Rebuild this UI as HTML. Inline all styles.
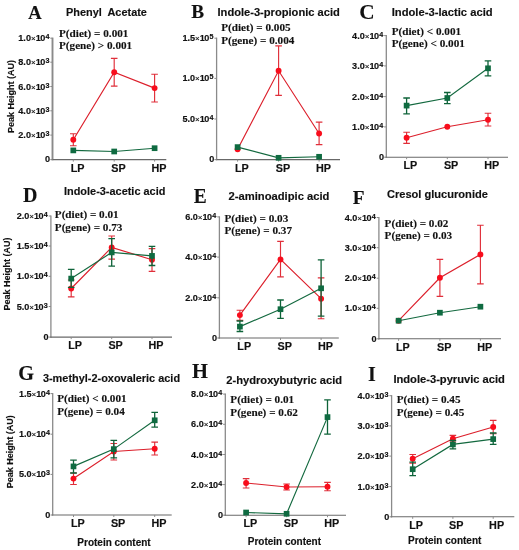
<!DOCTYPE html>
<html><head><meta charset="utf-8"><title>Figure</title>
<style>
html,body{margin:0;padding:0;background:#fff}
svg{display:block}
.s{font-family:"Liberation Sans",sans-serif;font-weight:bold;fill:#111;stroke:#111;stroke-width:0.15px}
.r{font-family:"Liberation Serif",serif;font-weight:bold;fill:#111;stroke:#111;stroke-width:0.12px}
.tk{font-size:8.6px}
.mul{font-weight:normal;font-size:7.6px}
.ten{letter-spacing:-0.5px}
.sup{font-size:6.8px}
.xl{font-size:10.8px}
.tt{font-size:10.8px}
.pv{font-size:11.2px}
.lb{font-size:17.5px}
.yl{font-size:9px}
.xt{font-size:10px}
</style></head><body>
<svg width="519" height="550" viewBox="0 0 519 550">
<rect width="519" height="550" fill="#fff"/>
<g id="panel-A">
<path d="M52.5 37.6V160.2" fill="none" stroke="#8a8a8a" stroke-width="1.9"/>
<path d="M51.6 159.6H166.3" fill="none" stroke="#686868" stroke-width="1.05"/>
<path d="M50.3 38.2H52.5M50.3 62.2H52.5M50.3 86.5H52.5M50.3 110.8H52.5M50.3 135.1H52.5M50.3 159.6H52.5M73.3 159.6V161.6M114.2 159.6V161.6M154.6 159.6V161.6" fill="none" stroke="#8a8a8a" stroke-width="1"/>
<text class="s tk" transform="translate(49.4 41.2) scale(1.06 1)" text-anchor="end">1.0<tspan class="mul">×</tspan><tspan class="ten">10</tspan><tspan class="sup" dx="0.6" dy="-2">4</tspan></text>
<text class="s tk" transform="translate(49.4 65.2) scale(1.06 1)" text-anchor="end">8.0<tspan class="mul">×</tspan><tspan class="ten">10</tspan><tspan class="sup" dx="0.6" dy="-2">3</tspan></text>
<text class="s tk" transform="translate(49.4 89.5) scale(1.06 1)" text-anchor="end">6.0<tspan class="mul">×</tspan><tspan class="ten">10</tspan><tspan class="sup" dx="0.6" dy="-2">3</tspan></text>
<text class="s tk" transform="translate(49.4 113.8) scale(1.06 1)" text-anchor="end">4.0<tspan class="mul">×</tspan><tspan class="ten">10</tspan><tspan class="sup" dx="0.6" dy="-2">3</tspan></text>
<text class="s tk" transform="translate(49.4 138.1) scale(1.06 1)" text-anchor="end">2.0<tspan class="mul">×</tspan><tspan class="ten">10</tspan><tspan class="sup" dx="0.6" dy="-2">3</tspan></text>
<text class="s tk" transform="translate(50.2 162.4) scale(1.06 1)" text-anchor="end">0</text>
<text class="s xl" x="77.6" y="171.5" text-anchor="middle">LP</text>
<text class="s xl" x="118.5" y="171.5" text-anchor="middle">SP</text>
<text class="s xl" x="158.9" y="171.5" text-anchor="middle">HP</text>
<text class="s yl" transform="translate(13.5 96.4) rotate(-90)" text-anchor="middle">Peak Height (AU)</text>
<polyline points="73.3,139.7 114.2,72.3 154.6,88.1" fill="none" stroke="#dc1f2b" stroke-width="1.15"/>
<path d="M73.3 133.7V145.7M70 133.7h6.6M70 145.7h6.6M114.2 58.4V86.1M110.9 58.4h6.6M110.9 86.1h6.6M154.6 74.2V102M151.3 74.2h6.6M151.3 102h6.6" fill="none" stroke="#e02f3a" stroke-width="1.15"/>
<circle cx="73.3" cy="139.7" r="2.95" fill="#f80d1c"/>
<circle cx="114.2" cy="72.3" r="2.95" fill="#f80d1c"/>
<circle cx="154.6" cy="88.1" r="2.95" fill="#f80d1c"/>
<polyline points="73.3,150.4 114.2,151.5 154.6,148.2" fill="none" stroke="#13693f" stroke-width="1.15"/>
<rect x="70.45" y="147.55" width="5.7" height="5.7" fill="#0f6b41"/>
<rect x="111.35" y="148.65" width="5.7" height="5.7" fill="#0f6b41"/>
<rect x="151.75" y="145.35" width="5.7" height="5.7" fill="#0f6b41"/>
<text class="r" x="28.2" y="18.6" font-size="18.5px">A</text>
<text class="s tt" transform="translate(66 15.5) scale(1.01124 1)" xml:space="preserve">Phenyl  Acetate</text>
<text class="r pv" x="59" y="36.7">P(diet) = 0.001</text>
<text class="r pv" x="59" y="48.5">P(gene) &gt; 0.001</text>
</g>
<g id="panel-B">
<path d="M216.6 37.6V160.2" fill="none" stroke="#8a8a8a" stroke-width="1.3"/>
<path d="M215.7 159.6H340" fill="none" stroke="#686868" stroke-width="1.05"/>
<path d="M214.4 38.2H216.6M214.4 78.4H216.6M214.4 119H216.6M214.4 159.6H216.6M237.6 159.6V161.6M278.6 159.6V161.6M319.1 159.6V161.6" fill="none" stroke="#8a8a8a" stroke-width="1"/>
<text class="s tk" transform="translate(213.5 41.2) scale(1.06 1)" text-anchor="end">1.5<tspan class="mul">×</tspan><tspan class="ten">10</tspan><tspan class="sup" dx="0.6" dy="-2">5</tspan></text>
<text class="s tk" transform="translate(213.5 81.4) scale(1.06 1)" text-anchor="end">1.0<tspan class="mul">×</tspan><tspan class="ten">10</tspan><tspan class="sup" dx="0.6" dy="-2">5</tspan></text>
<text class="s tk" transform="translate(213.5 122) scale(1.06 1)" text-anchor="end">5.0<tspan class="mul">×</tspan><tspan class="ten">10</tspan><tspan class="sup" dx="0.6" dy="-2">4</tspan></text>
<text class="s tk" transform="translate(214.3 162.4) scale(1.06 1)" text-anchor="end">0</text>
<text class="s xl" x="241.9" y="171.5" text-anchor="middle">LP</text>
<text class="s xl" x="282.9" y="171.5" text-anchor="middle">SP</text>
<text class="s xl" x="323.4" y="171.5" text-anchor="middle">HP</text>
<polyline points="237.6,149.2 278.6,70.8 319.1,133.5" fill="none" stroke="#dc1f2b" stroke-width="1.15"/>
<path d="M278.6 45.8V95.4M275.3 45.8h6.6M275.3 95.4h6.6M319.1 122.1V144.6M315.8 122.1h6.6M315.8 144.6h6.6" fill="none" stroke="#e02f3a" stroke-width="1.15"/>
<circle cx="237.6" cy="149.2" r="2.95" fill="#f80d1c"/>
<circle cx="278.6" cy="70.8" r="2.95" fill="#f80d1c"/>
<circle cx="319.1" cy="133.5" r="2.95" fill="#f80d1c"/>
<polyline points="237.6,147.1 278.6,157.8 319.1,156.8" fill="none" stroke="#13693f" stroke-width="1.15"/>
<rect x="234.75" y="144.25" width="5.7" height="5.7" fill="#0f6b41"/>
<rect x="275.75" y="154.95" width="5.7" height="5.7" fill="#0f6b41"/>
<rect x="316.25" y="153.95" width="5.7" height="5.7" fill="#0f6b41"/>
<text class="r" x="191.2" y="18.3" font-size="19.3px">B</text>
<text class="s tt" transform="translate(217.5 16.3) scale(1.0303200000000001 1)" xml:space="preserve">Indole-3-propionic acid</text>
<text class="r pv" x="221.2" y="31.2">P(diet) = 0.005</text>
<text class="r pv" x="221.2" y="43.7">P(gene) = 0.004</text>
</g>
<g id="panel-C">
<path d="M386.3 35V157.8" fill="none" stroke="#8a8a8a" stroke-width="1.3"/>
<path d="M385.4 157.2H508" fill="none" stroke="#686868" stroke-width="1.05"/>
<path d="M384.1 35.6H386.3M384.1 65.9H386.3M384.1 96.6H386.3M384.1 126.9H386.3M384.1 157.2H386.3M406.6 157.2V159.2M447.3 157.2V159.2M488 157.2V159.2" fill="none" stroke="#8a8a8a" stroke-width="1"/>
<text class="s tk" transform="translate(383.2 38.6) scale(1.06 1)" text-anchor="end">4.0<tspan class="mul">×</tspan><tspan class="ten">10</tspan><tspan class="sup" dx="0.6" dy="-2">4</tspan></text>
<text class="s tk" transform="translate(383.2 68.9) scale(1.06 1)" text-anchor="end">3.0<tspan class="mul">×</tspan><tspan class="ten">10</tspan><tspan class="sup" dx="0.6" dy="-2">4</tspan></text>
<text class="s tk" transform="translate(383.2 99.6) scale(1.06 1)" text-anchor="end">2.0<tspan class="mul">×</tspan><tspan class="ten">10</tspan><tspan class="sup" dx="0.6" dy="-2">4</tspan></text>
<text class="s tk" transform="translate(383.2 129.9) scale(1.06 1)" text-anchor="end">1.0<tspan class="mul">×</tspan><tspan class="ten">10</tspan><tspan class="sup" dx="0.6" dy="-2">4</tspan></text>
<text class="s tk" transform="translate(384 160) scale(1.06 1)" text-anchor="end">0</text>
<text class="s xl" x="410.4" y="169.1" text-anchor="middle">LP</text>
<text class="s xl" x="451.1" y="169.1" text-anchor="middle">SP</text>
<text class="s xl" x="491.8" y="169.1" text-anchor="middle">HP</text>
<polyline points="406.6,137.7 447.3,126.7 488,119.8" fill="none" stroke="#dc1f2b" stroke-width="1.15"/>
<path d="M406.6 132.2V143.3M403.3 132.2h6.6M403.3 143.3h6.6M488 113.2V126M484.7 113.2h6.6M484.7 126h6.6" fill="none" stroke="#e02f3a" stroke-width="1.15"/>
<circle cx="406.6" cy="137.7" r="2.95" fill="#f80d1c"/>
<circle cx="447.3" cy="126.7" r="2.95" fill="#f80d1c"/>
<circle cx="488" cy="119.8" r="2.95" fill="#f80d1c"/>
<polyline points="406.6,105.6 447.3,98 488,68.3" fill="none" stroke="#13693f" stroke-width="1.15"/>
<path d="M406.6 98V113.9M403.3 98h6.6M403.3 113.9h6.6M447.3 92.5V103.6M444 92.5h6.6M444 103.6h6.6M488 60.8V75.9M484.7 60.8h6.6M484.7 75.9h6.6" fill="none" stroke="#0e6339" stroke-width="1.3"/>
<rect x="403.75" y="102.75" width="5.7" height="5.7" fill="#0f6b41"/>
<rect x="444.45" y="95.15" width="5.7" height="5.7" fill="#0f6b41"/>
<rect x="485.15" y="65.45" width="5.7" height="5.7" fill="#0f6b41"/>
<text class="r" x="359.2" y="18.7" font-size="21.3px">C</text>
<text class="s tt" transform="translate(391.7 16.2) scale(1.03986 1)" xml:space="preserve">Indole-3-lactic acid</text>
<text class="r pv" x="391.7" y="34.5">P(diet) &lt; 0.001</text>
<text class="r pv" x="391.7" y="47">P(gene) &lt; 0.001</text>
</g>
<g id="panel-D">
<path d="M50.9 215.4V337.7" fill="none" stroke="#8a8a8a" stroke-width="1.3"/>
<path d="M50 337.1H172" fill="none" stroke="#686868" stroke-width="1.05"/>
<path d="M48.7 216H50.9M48.7 246H50.9M48.7 276.3H50.9M48.7 306.5H50.9M48.7 337.1H50.9M71.2 337.1V339.1M111.7 337.1V339.1M152 337.1V339.1" fill="none" stroke="#8a8a8a" stroke-width="1"/>
<text class="s tk" transform="translate(47.8 219) scale(1.06 1)" text-anchor="end">2.0<tspan class="mul">×</tspan><tspan class="ten">10</tspan><tspan class="sup" dx="0.6" dy="-2">4</tspan></text>
<text class="s tk" transform="translate(47.8 249) scale(1.06 1)" text-anchor="end">1.5<tspan class="mul">×</tspan><tspan class="ten">10</tspan><tspan class="sup" dx="0.6" dy="-2">4</tspan></text>
<text class="s tk" transform="translate(47.8 279.3) scale(1.06 1)" text-anchor="end">1.0<tspan class="mul">×</tspan><tspan class="ten">10</tspan><tspan class="sup" dx="0.6" dy="-2">4</tspan></text>
<text class="s tk" transform="translate(47.8 309.5) scale(1.06 1)" text-anchor="end">5.0<tspan class="mul">×</tspan><tspan class="ten">10</tspan><tspan class="sup" dx="0.6" dy="-2">3</tspan></text>
<text class="s tk" transform="translate(48.6 339.9) scale(1.06 1)" text-anchor="end">0</text>
<text class="s xl" x="75.1" y="349" text-anchor="middle">LP</text>
<text class="s xl" x="115.6" y="349" text-anchor="middle">SP</text>
<text class="s xl" x="155.9" y="349" text-anchor="middle">HP</text>
<text class="s yl" transform="translate(10 274.05) rotate(-90)" text-anchor="middle">Peak Height (AU)</text>
<polyline points="71.2,288.5 111.7,247.4 152,259.7" fill="none" stroke="#dc1f2b" stroke-width="1.15"/>
<path d="M71.2 280V296.9M67.9 280h6.6M67.9 296.9h6.6M111.7 236V259.1M108.4 236h6.6M108.4 259.1h6.6M152 248.6V271.4M148.7 248.6h6.6M148.7 271.4h6.6" fill="none" stroke="#e02f3a" stroke-width="1.15"/>
<circle cx="71.2" cy="288.5" r="2.95" fill="#f80d1c"/>
<circle cx="111.7" cy="247.4" r="2.95" fill="#f80d1c"/>
<circle cx="152" cy="259.7" r="2.95" fill="#f80d1c"/>
<polyline points="71.2,278.6 111.7,252.4 152,255.9" fill="none" stroke="#13693f" stroke-width="1.15"/>
<path d="M71.2 269.3V287.3M67.9 269.3h6.6M67.9 287.3h6.6M111.7 238.6V266.1M108.4 238.6h6.6M108.4 266.1h6.6M152 246.4V265.5M148.7 246.4h6.6M148.7 265.5h6.6" fill="none" stroke="#0e6339" stroke-width="1.3"/>
<rect x="68.35" y="275.75" width="5.7" height="5.7" fill="#0f6b41"/>
<rect x="108.85" y="249.55" width="5.7" height="5.7" fill="#0f6b41"/>
<rect x="149.15" y="253.05" width="5.7" height="5.7" fill="#0f6b41"/>
<text class="r" x="23" y="202.2" font-size="20px">D</text>
<text class="s tt" transform="translate(64 195.1) scale(1.01124 1)" xml:space="preserve">Indole-3-acetic acid</text>
<text class="r pv" x="54.8" y="217.8">P(diet) = 0.01</text>
<text class="r pv" x="54.8" y="230.7">P(gene) = 0.73</text>
</g>
<g id="panel-E">
<path d="M219.4 216.3V338.6" fill="none" stroke="#8a8a8a" stroke-width="1.3"/>
<path d="M218.5 338H338.8" fill="none" stroke="#686868" stroke-width="1.05"/>
<path d="M217.2 216.9H219.4M217.2 257.1H219.4M217.2 297.8H219.4M217.2 338H219.4M239.9 338V340M280.5 338V340M321.1 338V340" fill="none" stroke="#8a8a8a" stroke-width="1"/>
<text class="s tk" transform="translate(216.3 219.9) scale(1.06 1)" text-anchor="end">6.0<tspan class="mul">×</tspan><tspan class="ten">10</tspan><tspan class="sup" dx="0.6" dy="-2">4</tspan></text>
<text class="s tk" transform="translate(216.3 260.1) scale(1.06 1)" text-anchor="end">4.0<tspan class="mul">×</tspan><tspan class="ten">10</tspan><tspan class="sup" dx="0.6" dy="-2">4</tspan></text>
<text class="s tk" transform="translate(216.3 300.8) scale(1.06 1)" text-anchor="end">2.0<tspan class="mul">×</tspan><tspan class="ten">10</tspan><tspan class="sup" dx="0.6" dy="-2">4</tspan></text>
<text class="s tk" transform="translate(217.1 340.8) scale(1.06 1)" text-anchor="end">0</text>
<text class="s xl" x="244.2" y="350" text-anchor="middle">LP</text>
<text class="s xl" x="284.8" y="350" text-anchor="middle">SP</text>
<text class="s xl" x="325.4" y="350" text-anchor="middle">HP</text>
<polyline points="239.9,315.1 280.5,259.4 321.1,298.7" fill="none" stroke="#dc1f2b" stroke-width="1.15"/>
<path d="M239.9 310.2V320.4M236.6 310.2h6.6M236.6 320.4h6.6M280.5 241.4V276.8M277.2 241.4h6.6M277.2 276.8h6.6M321.1 277.8V318.7M317.8 277.8h6.6M317.8 318.7h6.6" fill="none" stroke="#e02f3a" stroke-width="1.15"/>
<circle cx="239.9" cy="315.1" r="2.95" fill="#f80d1c"/>
<circle cx="280.5" cy="259.4" r="2.95" fill="#f80d1c"/>
<circle cx="321.1" cy="298.7" r="2.95" fill="#f80d1c"/>
<polyline points="239.9,326.6 280.5,309.2 321.1,288.3" fill="none" stroke="#13693f" stroke-width="1.15"/>
<path d="M239.9 321V331.5M236.6 321h6.6M236.6 331.5h6.6M280.5 300V318.4M277.2 300h6.6M277.2 318.4h6.6M321.1 259.8V316.1M317.8 259.8h6.6M317.8 316.1h6.6" fill="none" stroke="#0e6339" stroke-width="1.3"/>
<rect x="237.05" y="323.75" width="5.7" height="5.7" fill="#0f6b41"/>
<rect x="277.65" y="306.35" width="5.7" height="5.7" fill="#0f6b41"/>
<rect x="318.25" y="285.45" width="5.7" height="5.7" fill="#0f6b41"/>
<text class="r" transform="translate(193.7 202.8) scale(0.95 1)" font-size="20.5px">E</text>
<text class="s tt" transform="translate(228.5 199.7) scale(1.03986 1)" xml:space="preserve">2-aminoadipic acid</text>
<text class="r pv" x="224.4" y="221.5">P(diet) = 0.03</text>
<text class="r pv" x="224.4" y="233.9">P(gene) = 0.37</text>
</g>
<g id="panel-F">
<path d="M378.9 216.9V339.4" fill="none" stroke="#8a8a8a" stroke-width="1.3"/>
<path d="M378 338.8H501" fill="none" stroke="#686868" stroke-width="1.05"/>
<path d="M376.7 217.5H378.9M376.7 247.7H378.9M376.7 278.2H378.9M376.7 308.3H378.9M376.7 338.8H378.9M398.6 338.8V340.8M439.9 338.8V340.8M480.4 338.8V340.8" fill="none" stroke="#8a8a8a" stroke-width="1"/>
<text class="s tk" transform="translate(375.8 220.5) scale(1.06 1)" text-anchor="end">4.0<tspan class="mul">×</tspan><tspan class="ten">10</tspan><tspan class="sup" dx="0.6" dy="-2">4</tspan></text>
<text class="s tk" transform="translate(375.8 250.7) scale(1.06 1)" text-anchor="end">3.0<tspan class="mul">×</tspan><tspan class="ten">10</tspan><tspan class="sup" dx="0.6" dy="-2">4</tspan></text>
<text class="s tk" transform="translate(375.8 281.2) scale(1.06 1)" text-anchor="end">2.0<tspan class="mul">×</tspan><tspan class="ten">10</tspan><tspan class="sup" dx="0.6" dy="-2">4</tspan></text>
<text class="s tk" transform="translate(375.8 311.3) scale(1.06 1)" text-anchor="end">1.0<tspan class="mul">×</tspan><tspan class="ten">10</tspan><tspan class="sup" dx="0.6" dy="-2">4</tspan></text>
<text class="s tk" transform="translate(376.6 341.6) scale(1.06 1)" text-anchor="end">0</text>
<text class="s xl" x="402.9" y="351" text-anchor="middle">LP</text>
<text class="s xl" x="444.2" y="351" text-anchor="middle">SP</text>
<text class="s xl" x="484.7" y="351" text-anchor="middle">HP</text>
<polyline points="398.6,320.7 439.9,277.8 480.4,254.4" fill="none" stroke="#dc1f2b" stroke-width="1.15"/>
<path d="M439.9 259.4V296.3M436.6 259.4h6.6M436.6 296.3h6.6M480.4 225.2V283.9M477.1 225.2h6.6M477.1 283.9h6.6" fill="none" stroke="#e02f3a" stroke-width="1.15"/>
<circle cx="398.6" cy="320.7" r="2.95" fill="#f80d1c"/>
<circle cx="439.9" cy="277.8" r="2.95" fill="#f80d1c"/>
<circle cx="480.4" cy="254.4" r="2.95" fill="#f80d1c"/>
<polyline points="398.6,320.7 439.9,312.7 480.4,306.7" fill="none" stroke="#13693f" stroke-width="1.15"/>
<rect x="395.75" y="317.85" width="5.7" height="5.7" fill="#0f6b41"/>
<rect x="437.05" y="309.85" width="5.7" height="5.7" fill="#0f6b41"/>
<rect x="477.55" y="303.85" width="5.7" height="5.7" fill="#0f6b41"/>
<text class="r" x="352.7" y="204.4" font-size="19.3px">F</text>
<text class="s tt" transform="translate(386.9 198.1) scale(1.027458 1)" xml:space="preserve">Cresol glucuronide</text>
<text class="r pv" x="384.6" y="226.9">P(diet) = 0.02</text>
<text class="r pv" x="384.6" y="238.5">P(gene) = 0.03</text>
</g>
<g id="panel-G">
<path d="M52.7 393V515.6" fill="none" stroke="#8a8a8a" stroke-width="1.3"/>
<path d="M51.8 515H171.7" fill="none" stroke="#686868" stroke-width="1.05"/>
<path d="M50.5 393.6H52.7M50.5 434.2H52.7M50.5 474.4H52.7M50.5 515H52.7M73.5 515V517M113.8 515V517M154.7 515V517" fill="none" stroke="#8a8a8a" stroke-width="1"/>
<text class="s tk" transform="translate(50 396.6) scale(1.06 1)" text-anchor="end">1.5<tspan class="mul">×</tspan><tspan class="ten">10</tspan><tspan class="sup" dx="0.6" dy="-2">4</tspan></text>
<text class="s tk" transform="translate(50 437.2) scale(1.06 1)" text-anchor="end">1.0<tspan class="mul">×</tspan><tspan class="ten">10</tspan><tspan class="sup" dx="0.6" dy="-2">4</tspan></text>
<text class="s tk" transform="translate(50 477.4) scale(1.06 1)" text-anchor="end">5.0<tspan class="mul">×</tspan><tspan class="ten">10</tspan><tspan class="sup" dx="0.6" dy="-2">3</tspan></text>
<text class="s tk" transform="translate(50.4 517.8) scale(1.06 1)" text-anchor="end">0</text>
<text class="s xl" x="77.8" y="527" text-anchor="middle">LP</text>
<text class="s xl" x="118.1" y="527" text-anchor="middle">SP</text>
<text class="s xl" x="159" y="527" text-anchor="middle">HP</text>
<text class="s xt" x="114" y="546" text-anchor="middle">Protein content</text>
<text class="s yl" transform="translate(12.8 451.8) rotate(-90)" text-anchor="middle">Peak Height (AU)</text>
<polyline points="73.5,478.6 113.8,451.5 154.7,448.7" fill="none" stroke="#dc1f2b" stroke-width="1.15"/>
<path d="M73.5 473V484.5M70.2 473h6.6M70.2 484.5h6.6M113.8 443.5V460M110.5 443.5h6.6M110.5 460h6.6M154.7 442.1V455M151.4 442.1h6.6M151.4 455h6.6" fill="none" stroke="#e02f3a" stroke-width="1.15"/>
<circle cx="73.5" cy="478.6" r="2.95" fill="#f80d1c"/>
<circle cx="113.8" cy="451.5" r="2.95" fill="#f80d1c"/>
<circle cx="154.7" cy="448.7" r="2.95" fill="#f80d1c"/>
<polyline points="73.5,466.4 113.8,449.1 154.7,420.3" fill="none" stroke="#13693f" stroke-width="1.15"/>
<path d="M73.5 460.2V473M70.2 460.2h6.6M70.2 473h6.6M113.8 440.4V457.8M110.5 440.4h6.6M110.5 457.8h6.6M154.7 412.3V427.2M151.4 412.3h6.6M151.4 427.2h6.6" fill="none" stroke="#0e6339" stroke-width="1.3"/>
<rect x="70.65" y="463.55" width="5.7" height="5.7" fill="#0f6b41"/>
<rect x="110.95" y="446.25" width="5.7" height="5.7" fill="#0f6b41"/>
<rect x="151.85" y="417.45" width="5.7" height="5.7" fill="#0f6b41"/>
<text class="r" x="18.3" y="379.8" font-size="20.3px">G</text>
<text class="s tt" transform="translate(42.9 382.4) scale(1.01124 1)" xml:space="preserve">3-methyl-2-oxovaleric acid</text>
<text class="r pv" x="57.2" y="402.2">P(diet) &lt; 0.001</text>
<text class="r pv" x="57.2" y="415.2">P(gene) = 0.04</text>
</g>
<g id="panel-H">
<path d="M225.3 393.5V515.8" fill="none" stroke="#8a8a8a" stroke-width="1.3"/>
<path d="M224.4 515.2H346" fill="none" stroke="#686868" stroke-width="1.05"/>
<path d="M223.1 394.1H225.3M223.1 424.3H225.3M223.1 454.5H225.3M223.1 484.6H225.3M223.1 515.2H225.3M246.1 515.2V517.2M286.6 515.2V517.2M327.5 515.2V517.2" fill="none" stroke="#8a8a8a" stroke-width="1"/>
<text class="s tk" transform="translate(222.2 397.1) scale(1.06 1)" text-anchor="end">8.0<tspan class="mul">×</tspan><tspan class="ten">10</tspan><tspan class="sup" dx="0.6" dy="-2">4</tspan></text>
<text class="s tk" transform="translate(222.2 427.3) scale(1.06 1)" text-anchor="end">6.0<tspan class="mul">×</tspan><tspan class="ten">10</tspan><tspan class="sup" dx="0.6" dy="-2">4</tspan></text>
<text class="s tk" transform="translate(222.2 457.5) scale(1.06 1)" text-anchor="end">4.0<tspan class="mul">×</tspan><tspan class="ten">10</tspan><tspan class="sup" dx="0.6" dy="-2">4</tspan></text>
<text class="s tk" transform="translate(222.2 487.6) scale(1.06 1)" text-anchor="end">2.0<tspan class="mul">×</tspan><tspan class="ten">10</tspan><tspan class="sup" dx="0.6" dy="-2">4</tspan></text>
<text class="s tk" transform="translate(223 518) scale(1.06 1)" text-anchor="end">0</text>
<text class="s xl" x="250.4" y="527" text-anchor="middle">LP</text>
<text class="s xl" x="290.9" y="527" text-anchor="middle">SP</text>
<text class="s xl" x="331.8" y="527" text-anchor="middle">HP</text>
<text class="s xt" x="284.4" y="545.3" text-anchor="middle">Protein content</text>
<polyline points="246.1,483 286.6,487 327.5,486.7" fill="none" stroke="#dc1f2b" stroke-width="1.15"/>
<path d="M246.1 478.6V488M242.8 478.6h6.6M242.8 488h6.6M286.6 484V490M283.3 484h6.6M283.3 490h6.6M327.5 482.3V490.7M324.2 482.3h6.6M324.2 490.7h6.6" fill="none" stroke="#e02f3a" stroke-width="1.15"/>
<circle cx="246.1" cy="483" r="2.95" fill="#f80d1c"/>
<circle cx="286.6" cy="487" r="2.95" fill="#f80d1c"/>
<circle cx="327.5" cy="486.7" r="2.95" fill="#f80d1c"/>
<polyline points="246.1,512.5 286.6,513.8 327.5,417.1" fill="none" stroke="#13693f" stroke-width="1.15"/>
<path d="M327.5 399.9V434.2M324.2 399.9h6.6M324.2 434.2h6.6" fill="none" stroke="#0e6339" stroke-width="1.3"/>
<rect x="243.25" y="509.65" width="5.7" height="5.7" fill="#0f6b41"/>
<rect x="283.75" y="510.95" width="5.7" height="5.7" fill="#0f6b41"/>
<rect x="324.65" y="414.25" width="5.7" height="5.7" fill="#0f6b41"/>
<text class="r" x="192" y="377.8" font-size="20.5px">H</text>
<text class="s tt" transform="translate(226.3 384.2) scale(1.032228 1)" xml:space="preserve">2-hydroxybutyric acid</text>
<text class="r pv" x="230.3" y="403.3">P(diet) = 0.01</text>
<text class="r pv" x="230.3" y="415.6">P(gene) = 0.62</text>
</g>
<g id="panel-I">
<path d="M391.6 395.1V517.4" fill="none" stroke="#8a8a8a" stroke-width="1.3"/>
<path d="M390.7 516.8H514.3" fill="none" stroke="#686868" stroke-width="1.05"/>
<path d="M389.4 395.7H391.6M389.4 425.9H391.6M389.4 456.1H391.6M389.4 486.6H391.6M389.4 516.8H391.6M412.7 516.8V518.8M452.9 516.8V518.8M493.2 516.8V518.8" fill="none" stroke="#8a8a8a" stroke-width="1"/>
<text class="s tk" transform="translate(388.5 398.7) scale(1.06 1)" text-anchor="end">4.0<tspan class="mul">×</tspan><tspan class="ten">10</tspan><tspan class="sup" dx="0.6" dy="-2">3</tspan></text>
<text class="s tk" transform="translate(388.5 428.9) scale(1.06 1)" text-anchor="end">3.0<tspan class="mul">×</tspan><tspan class="ten">10</tspan><tspan class="sup" dx="0.6" dy="-2">3</tspan></text>
<text class="s tk" transform="translate(388.5 459.1) scale(1.06 1)" text-anchor="end">2.0<tspan class="mul">×</tspan><tspan class="ten">10</tspan><tspan class="sup" dx="0.6" dy="-2">3</tspan></text>
<text class="s tk" transform="translate(388.5 489.6) scale(1.06 1)" text-anchor="end">1.0<tspan class="mul">×</tspan><tspan class="ten">10</tspan><tspan class="sup" dx="0.6" dy="-2">3</tspan></text>
<text class="s tk" transform="translate(389.3 519.6) scale(1.06 1)" text-anchor="end">0</text>
<text class="s xl" x="416.1" y="528.7" text-anchor="middle">LP</text>
<text class="s xl" x="456.3" y="528.7" text-anchor="middle">SP</text>
<text class="s xl" x="496.6" y="528.7" text-anchor="middle">HP</text>
<text class="s xt" x="444.7" y="544" text-anchor="middle">Protein content</text>
<polyline points="412.7,458.8 452.9,438.7 493.2,427" fill="none" stroke="#dc1f2b" stroke-width="1.15"/>
<path d="M412.7 454.5V463.2M409.4 454.5h6.6M409.4 463.2h6.6M452.9 435.4V442M449.6 435.4h6.6M449.6 442h6.6M493.2 420.3V433.7M489.9 420.3h6.6M489.9 433.7h6.6" fill="none" stroke="#e02f3a" stroke-width="1.15"/>
<circle cx="412.7" cy="458.8" r="2.95" fill="#f80d1c"/>
<circle cx="452.9" cy="438.7" r="2.95" fill="#f80d1c"/>
<circle cx="493.2" cy="427" r="2.95" fill="#f80d1c"/>
<polyline points="412.7,469.2 452.9,444.4 493.2,439.1" fill="none" stroke="#13693f" stroke-width="1.15"/>
<path d="M412.7 462.2V475.6M409.4 462.2h6.6M409.4 475.6h6.6M452.9 440.4V448.8M449.6 440.4h6.6M449.6 448.8h6.6M493.2 433V444.4M489.9 433h6.6M489.9 444.4h6.6" fill="none" stroke="#0e6339" stroke-width="1.3"/>
<rect x="409.85" y="466.35" width="5.7" height="5.7" fill="#0f6b41"/>
<rect x="450.05" y="441.55" width="5.7" height="5.7" fill="#0f6b41"/>
<rect x="490.35" y="436.25" width="5.7" height="5.7" fill="#0f6b41"/>
<text class="r" x="367.9" y="380.8" font-size="20px">I</text>
<text class="s tt" transform="translate(393.4 383.4) scale(1.0331819999999998 1)" xml:space="preserve">Indole-3-pyruvic acid</text>
<text class="r pv" x="396.7" y="403.4">P(diet) = 0.45</text>
<text class="r pv" x="396.7" y="415.8">P(gene) = 0.45</text>
</g>
</svg>
</body></html>
